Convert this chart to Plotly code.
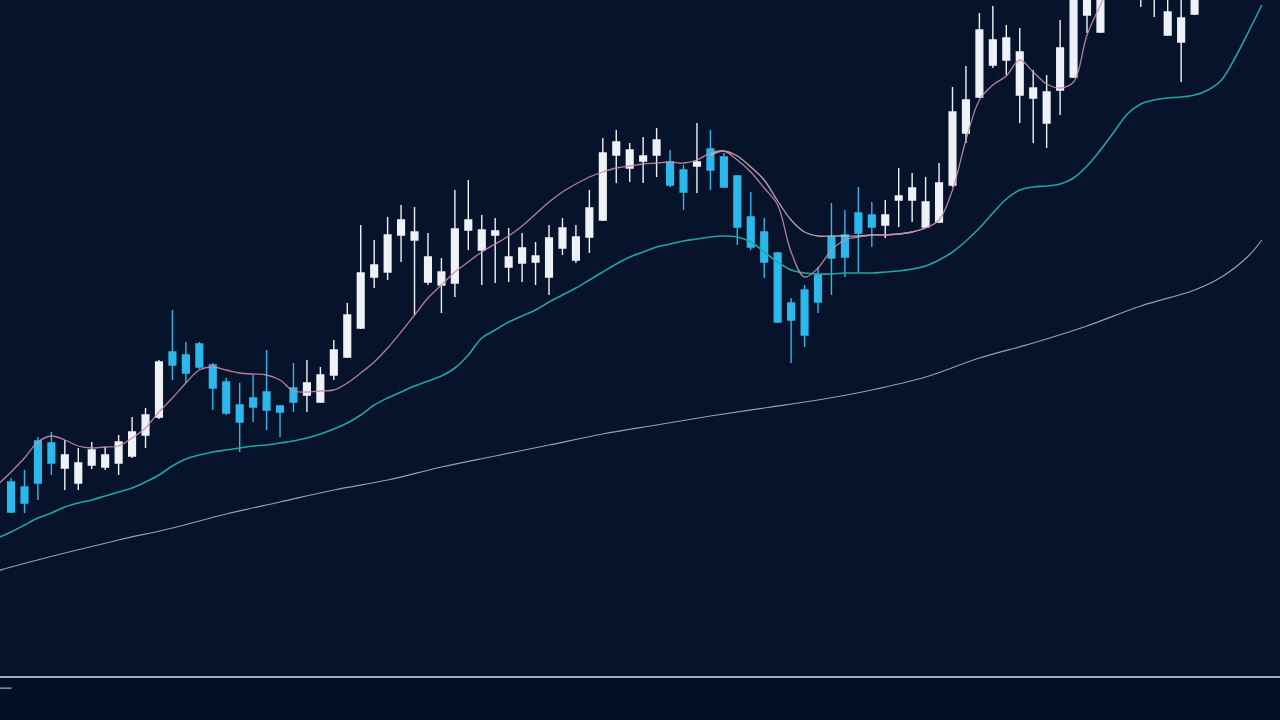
import plotly.graph_objects as go

# ---------------- data ----------------
candle_idx = list(range(89))

opens = [238, 233, 279, 277, 252, 237, 255, 253, 257, 264, 285, 303, 368, 365, 376, 355, 338, 315, 322, 328,
         314, 332, 325, 318, 345, 363, 392, 443, 448, 485, 480, 438, 435, 437, 490, 470, 485, 453, 457, 458,
         443, 472, 460, 483, 500, 565, 552, 559, 565, 558, 550, 554, 571, 563, 544, 503, 488, 467, 417, 430,
         445, 483, 485, 507, 505, 495, 520, 520, 493, 498, 535, 587, 623, 655, 660, 625, 622, 597, 630, 643,
         705, 688, 750, 745, 735, 725, 685, 678, 706]
highs = [242, 250, 283, 288, 280, 272, 278, 273, 285, 303, 312, 360, 410, 378, 378, 357, 342, 337, 345, 370,
         315, 357, 360, 353, 380, 417, 495, 480, 503, 515, 513, 487, 462, 530, 540, 505, 502, 492, 487, 478,
         495, 502, 495, 530, 582, 590, 577, 583, 592, 570, 555, 597, 590, 567, 545, 528, 502, 468, 422, 435,
         453, 517, 510, 533, 518, 520, 552, 547, 543, 557, 633, 654, 707, 714, 695, 692, 650, 645, 700, 760,
         750, 765, 800, 790, 760, 750, 740, 735, 745]
lows = [207, 207, 220, 245, 230, 230, 251, 250, 245, 262, 272, 301, 340, 337, 351, 310, 305, 268, 298, 290,
        283, 308, 308, 317, 340, 362, 391, 432, 440, 458, 405, 435, 407, 423, 470, 435, 437, 438, 438, 435,
        425, 465, 457, 467, 499, 537, 538, 537, 543, 533, 510, 527, 530, 532, 475, 470, 442, 397, 357, 373,
        407, 425, 443, 447, 473, 482, 493, 498, 492, 497, 533, 577, 622, 652, 645, 597, 577, 572, 605, 642,
        687, 687, 740, 730, 713, 703, 684, 638, 705]
closes = [208, 217, 237, 257, 265, 257, 270, 265, 278, 288, 305, 358, 355, 347, 353, 332, 307, 298, 313, 310,
          308, 318, 337, 345, 370, 405, 447, 455, 485, 500, 488, 463, 448, 491, 500, 490, 489, 463, 472, 464,
          482, 492, 483, 512, 567, 578, 570, 564, 580, 535, 528, 558, 550, 533, 493, 473, 458, 398, 400, 385,
          418, 462, 463, 487, 493, 505, 524, 532, 518, 537, 608, 620, 690, 680, 682, 668, 632, 628, 672, 730,
          725, 740, 780, 770, 750, 730, 708, 702, 730]

fast_idx = list(range(-1, 89))
fast_ma = [235, 248, 262, 278, 284, 280, 274, 272, 273, 274, 282, 292, 308, 322, 337, 350, 353, 350, 347, 346,
           345, 340, 329, 328, 329, 330, 337, 347, 358, 372, 388, 405, 422, 435, 448, 458, 468, 476, 484, 494,
           506, 518, 528, 536, 543, 548, 552, 554, 556, 557, 558, 557, 560, 567, 569, 560, 548, 532, 515, 468,
           443, 452, 470, 480, 483, 485, 485, 486, 488, 492, 500, 530, 580, 620, 635, 644, 660, 648, 636, 632,
           638, 685, 715, 745, 760, 760, 755, 750, 750, 750]

mid_idx = list(range(52, 69))
mid_ma = [565, 569, 564, 553, 540, 519, 500, 488, 484, 484, 484, 484, 485, 485, 486, 488, 492]

teal_idx = list(range(-1, 94))
teal_ma = [182, 188, 195, 202, 207, 213, 217, 220, 224, 228, 232, 238, 245, 254, 261, 265, 268, 270, 272, 274,
           275, 277, 279, 282, 286, 291, 297, 305, 315, 322, 328, 334, 339, 344, 352, 365, 382, 390, 398, 404,
           410, 418, 425, 432, 440, 448, 456, 463, 468, 473, 476, 479, 481, 483, 484, 483, 478, 468, 458, 450,
           447, 446, 446, 447, 447, 447, 448, 449, 451, 454, 460, 468, 479, 492, 507, 521, 530, 533, 534, 536,
           542, 554, 570, 588, 606, 616, 620, 622, 623, 625, 630, 640, 662, 688, 715]

long_idx = [-1, 0, 4, 8, 12, 16, 20, 24, 28, 32, 36, 40, 44, 48, 52, 56, 60, 64, 68, 72, 76, 80, 84, 88, 90, 92, 93]
long_ma = [149, 153, 167, 180, 192, 206, 218, 230, 240, 253, 264, 275, 286, 295, 304, 312, 320, 330, 343, 362,
           377, 394, 414, 430, 443, 464, 480]

# ---------------- styles ----------------
BG = "#07132a"
BG_LOW = "#061024"
WHITE = "#eef1f5"
CYAN = "#2cb8ea"

fig = go.Figure()

fig.add_trace(go.Scatter(x=long_idx, y=long_ma, mode="lines",
                         line=dict(color="rgba(190,194,204,0.8)", width=1.2, shape="spline", smoothing=1.0),
                         hoverinfo="skip"))
fig.add_trace(go.Scatter(x=teal_idx, y=teal_ma, mode="lines",
                         line=dict(color="#1fa6a4", width=1.6, shape="spline", smoothing=1.0),
                         hoverinfo="skip"))
fig.add_trace(go.Scatter(x=mid_idx, y=mid_ma, mode="lines",
                         line=dict(color="rgba(214,190,200,0.85)", width=1.3, shape="spline", smoothing=1.0),
                         hoverinfo="skip"))
fig.add_trace(go.Scatter(x=fast_idx, y=fast_ma, mode="lines",
                         line=dict(color="rgba(200,140,170,0.9)", width=1.3, shape="spline", smoothing=1.0),
                         hoverinfo="skip"))

fig.add_trace(go.Candlestick(
    x=candle_idx, open=opens, high=highs, low=lows, close=closes,
    increasing=dict(line=dict(color=WHITE, width=1.4), fillcolor=WHITE),
    decreasing=dict(line=dict(color=CYAN, width=1.4), fillcolor=CYAN),
    whiskerwidth=0,
))

fig.update_layout(
    width=1280, height=720,
    margin=dict(l=0, r=0, t=0, b=44),
    paper_bgcolor=BG_LOW, plot_bgcolor=BG,
    showlegend=False,
    boxgap=0.5, boxgroupgap=0,
    xaxis=dict(range=[-0.82, 94.35], showgrid=False, zeroline=False, showticklabels=False,
               ticks="", showline=True, linecolor="#a3abbb", linewidth=1.5,
               rangeslider=dict(visible=False)),
    yaxis=dict(range=[44, 720], showgrid=False, zeroline=False, showticklabels=False,
               ticks="", showline=False),
    shapes=[dict(type="line", xref="paper", yref="paper", x0=0, x1=0.009, y0=-0.018, y1=-0.018,
                 line=dict(color="#8a93a5", width=1.5))],
)

fig.write_html("out.html", config={"displayModeBar": False},
               post_script="document.body.style.margin='0';document.body.style.overflow='hidden';")
